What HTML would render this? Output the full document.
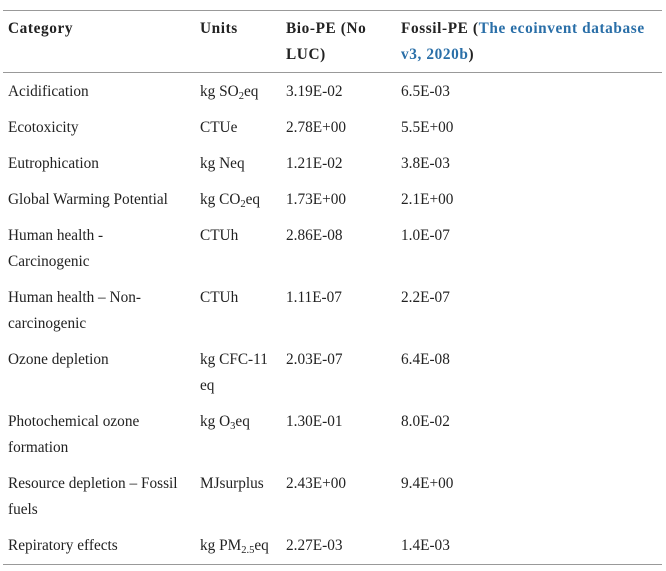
<!DOCTYPE html>
<html><head><meta charset="utf-8"><style>
body{margin:0;width:666px;height:571px;background:#fff;position:relative;font-family:"Liberation Serif",serif;font-size:15.3px;color:#222;}
.l{position:absolute;left:3px;width:659px;height:1px;background:#999;}
.c{position:absolute;line-height:26px;white-space:nowrap;margin-top:1px;}
b{font-weight:bold;letter-spacing:0.6px;}
a{color:#2a6fa8;text-decoration:none;font-weight:bold;}
sub{font-size:10.5px;vertical-align:-3px;line-height:0;}
</style></head><body>
<div class="l" style="top:10px"></div>
<div class="l" style="top:72px"></div>
<div class="l" style="top:564px"></div>

<div class="c" style="left:8px;top:15px"><b>Category</b></div>
<div class="c" style="left:200px;top:15px"><b>Units</b></div>
<div class="c" style="left:286px;top:15px"><b>Bio-PE (No<br>LUC)</b></div>
<div class="c" style="left:401px;top:15px"><b>Fossil-PE (<a>The ecoinvent database</a><br><a>v3, 2020b</a>)</b></div>

<div class="c" style="left:8px;top:78px">Acidification</div>
<div class="c" style="left:200px;top:78px">kg SO<sub>2</sub>eq</div>
<div class="c" style="left:286px;top:78px">3.19E-02</div>
<div class="c" style="left:401px;top:78px">6.5E-03</div>

<div class="c" style="left:8px;top:114px">Ecotoxicity</div>
<div class="c" style="left:200px;top:114px">CTUe</div>
<div class="c" style="left:286px;top:114px">2.78E+00</div>
<div class="c" style="left:401px;top:114px">5.5E+00</div>

<div class="c" style="left:8px;top:150px">Eutrophication</div>
<div class="c" style="left:200px;top:150px">kg Neq</div>
<div class="c" style="left:286px;top:150px">1.21E-02</div>
<div class="c" style="left:401px;top:150px">3.8E-03</div>

<div class="c" style="left:8px;top:186px">Global Warming Potential</div>
<div class="c" style="left:200px;top:186px">kg CO<sub>2</sub>eq</div>
<div class="c" style="left:286px;top:186px">1.73E+00</div>
<div class="c" style="left:401px;top:186px">2.1E+00</div>

<div class="c" style="left:8px;top:222px">Human health -<br>Carcinogenic</div>
<div class="c" style="left:200px;top:222px">CTUh</div>
<div class="c" style="left:286px;top:222px">2.86E-08</div>
<div class="c" style="left:401px;top:222px">1.0E-07</div>

<div class="c" style="left:8px;top:284px">Human health – Non-<br>carcinogenic</div>
<div class="c" style="left:200px;top:284px">CTUh</div>
<div class="c" style="left:286px;top:284px">1.11E-07</div>
<div class="c" style="left:401px;top:284px">2.2E-07</div>

<div class="c" style="left:8px;top:346px">Ozone depletion</div>
<div class="c" style="left:200px;top:346px">kg CFC-11<br>eq</div>
<div class="c" style="left:286px;top:346px">2.03E-07</div>
<div class="c" style="left:401px;top:346px">6.4E-08</div>

<div class="c" style="left:8px;top:408px">Photochemical ozone<br>formation</div>
<div class="c" style="left:200px;top:408px">kg O<sub>3</sub>eq</div>
<div class="c" style="left:286px;top:408px">1.30E-01</div>
<div class="c" style="left:401px;top:408px">8.0E-02</div>

<div class="c" style="left:8px;top:470px">Resource depletion – Fossil<br>fuels</div>
<div class="c" style="left:200px;top:470px">MJsurplus</div>
<div class="c" style="left:286px;top:470px">2.43E+00</div>
<div class="c" style="left:401px;top:470px">9.4E+00</div>

<div class="c" style="left:8px;top:532px">Repiratory effects</div>
<div class="c" style="left:200px;top:532px">kg PM<sub>2.5</sub>eq</div>
<div class="c" style="left:286px;top:532px">2.27E-03</div>
<div class="c" style="left:401px;top:532px">1.4E-03</div>
</body></html>
